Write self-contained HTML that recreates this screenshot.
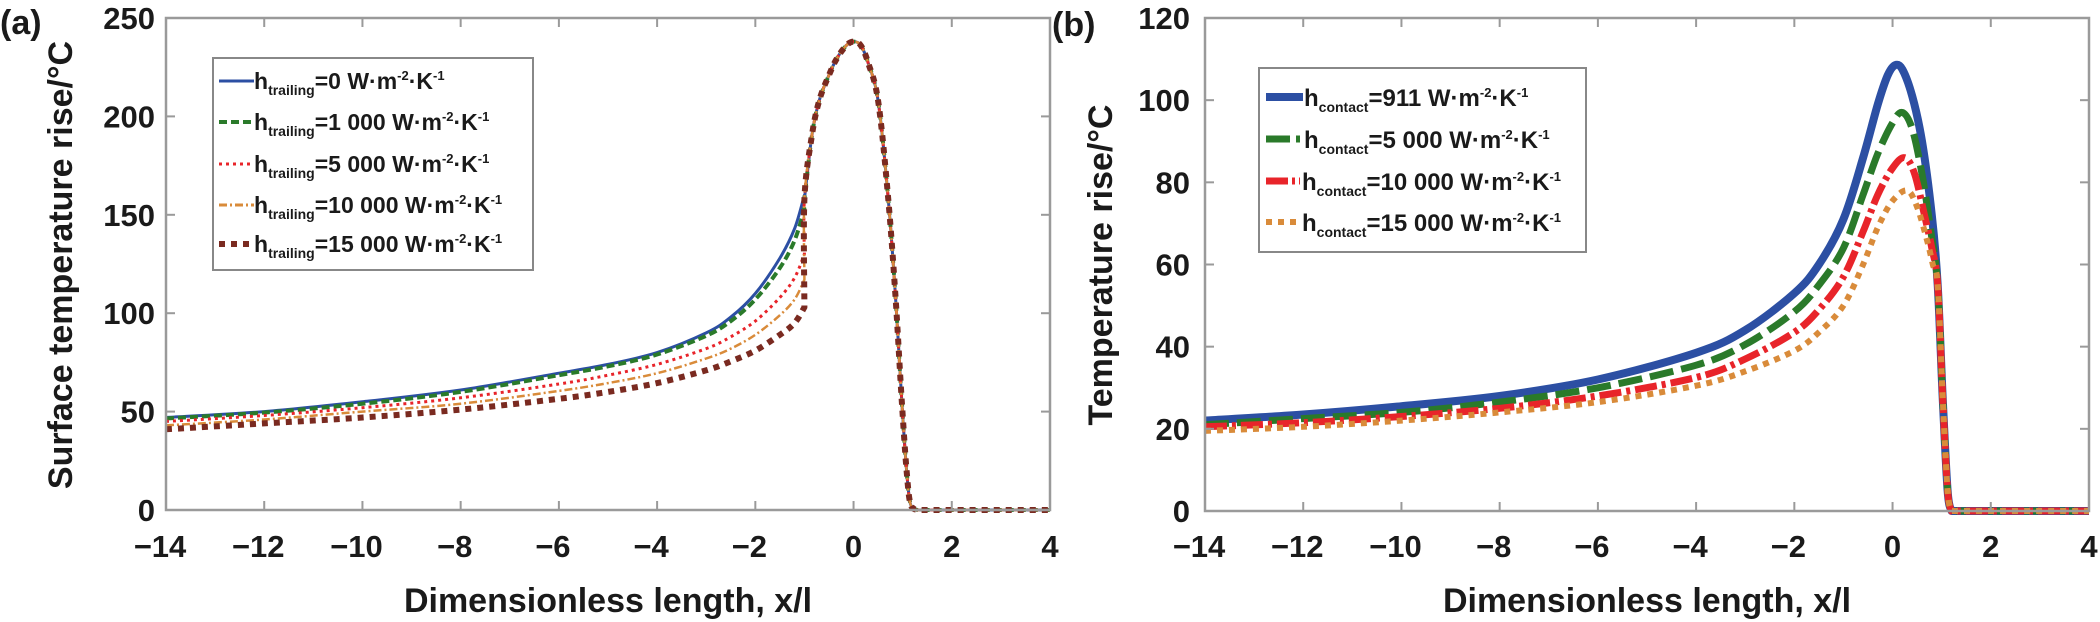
<!DOCTYPE html>
<html><head><meta charset="utf-8">
<style>
html,body{margin:0;padding:0;background:#fff;}
svg{display:block;}
text{font-family:"Liberation Sans",Arial,sans-serif;font-weight:bold;fill:#1a1a1a;}
</style></head>
<body>
<svg id="s" width="2100" height="622" viewBox="0 0 2100 622" xmlns="http://www.w3.org/2000/svg">
<g id="ga"></g>
<g id="gb"></g>
<text x="0" y="34" font-size="34">(a)</text>
<text x="1052" y="36" font-size="34">(b)</text>
<text transform="translate(72,265) rotate(-90)" font-size="34" text-anchor="middle">Surface temperature rise/°C</text>
<text transform="translate(1112,265) rotate(-90)" font-size="34" text-anchor="middle">Temperature rise/°C</text>
<text x="608" y="612" font-size="34" text-anchor="middle">Dimensionless length, x/l</text>
<text x="1647" y="612" font-size="34" text-anchor="middle">Dimensionless length, x/l</text>

<rect x="213" y="58" width="320" height="212" fill="#fff" stroke="#888" stroke-width="2"/>
<g font-size="23">
<line x1="219" y1="81" x2="254" y2="81" stroke="#2c4fa3" stroke-width="3"/>
<text x="254" y="89">h<tspan font-size="14" dy="6">trailing</tspan><tspan dy="-6">=0 W·m</tspan><tspan font-size="13" dy="-9">-2</tspan><tspan dy="9">·K</tspan><tspan font-size="13" dy="-9">-1</tspan></text>
<line x1="219" y1="122" x2="254" y2="122" stroke="#2a7a2a" stroke-width="4" stroke-dasharray="8,4"/>
<text x="254" y="130">h<tspan font-size="14" dy="6">trailing</tspan><tspan dy="-6">=1 000 W·m</tspan><tspan font-size="13" dy="-9">-2</tspan><tspan dy="9">·K</tspan><tspan font-size="13" dy="-9">-1</tspan></text>
<line x1="219" y1="164" x2="254" y2="164" stroke="#e8242a" stroke-width="3" stroke-dasharray="3,4"/>
<text x="254" y="172">h<tspan font-size="14" dy="6">trailing</tspan><tspan dy="-6">=5 000 W·m</tspan><tspan font-size="13" dy="-9">-2</tspan><tspan dy="9">·K</tspan><tspan font-size="13" dy="-9">-1</tspan></text>
<line x1="219" y1="205" x2="254" y2="205" stroke="#d98b3a" stroke-width="3" stroke-dasharray="8,3,2,3"/>
<text x="254" y="213">h<tspan font-size="14" dy="6">trailing</tspan><tspan dy="-6">=10 000 W·m</tspan><tspan font-size="13" dy="-9">-2</tspan><tspan dy="9">·K</tspan><tspan font-size="13" dy="-9">-1</tspan></text>
<line x1="219" y1="244" x2="254" y2="244" stroke="#7a2a20" stroke-width="6" stroke-dasharray="6,6"/>
<text x="254" y="252">h<tspan font-size="14" dy="6">trailing</tspan><tspan dy="-6">=15 000 W·m</tspan><tspan font-size="13" dy="-9">-2</tspan><tspan dy="9">·K</tspan><tspan font-size="13" dy="-9">-1</tspan></text>
</g>

<rect x="1259" y="68" width="327" height="184" fill="#fff" stroke="#888" stroke-width="2"/>
<g font-size="24">
<line x1="1266" y1="97" x2="1303" y2="97" stroke="#2c4fa3" stroke-width="8"/>
<text x="1304" y="106">h<tspan font-size="14" dy="6">contact</tspan><tspan dy="-6">=911 W·m</tspan><tspan font-size="13" dy="-9">-2</tspan><tspan dy="9">·K</tspan><tspan font-size="13" dy="-9">-1</tspan></text>
<line x1="1266" y1="139" x2="1300" y2="139" stroke="#2a7a2a" stroke-width="7" stroke-dasharray="24,6"/>
<text x="1304" y="148">h<tspan font-size="14" dy="6">contact</tspan><tspan dy="-6">=5 000 W·m</tspan><tspan font-size="13" dy="-9">-2</tspan><tspan dy="9">·K</tspan><tspan font-size="13" dy="-9">-1</tspan></text>
<line x1="1266" y1="181" x2="1300" y2="181" stroke="#e8242a" stroke-width="7" stroke-dasharray="22,4,3,4"/>
<text x="1302" y="190">h<tspan font-size="14" dy="6">contact</tspan><tspan dy="-6">=10 000 W·m</tspan><tspan font-size="13" dy="-9">-2</tspan><tspan dy="9">·K</tspan><tspan font-size="13" dy="-9">-1</tspan></text>
<line x1="1266" y1="222" x2="1300" y2="222" stroke="#d98b3a" stroke-width="6" stroke-dasharray="6,6"/>
<text x="1302" y="231">h<tspan font-size="14" dy="6">contact</tspan><tspan dy="-6">=15 000 W·m</tspan><tspan font-size="13" dy="-9">-2</tspan><tspan dy="9">·K</tspan><tspan font-size="13" dy="-9">-1</tspan></text>
</g>
</svg>
<script>
(function(){
var NS="http://www.w3.org/2000/svg";
function el(p,t,a,txt){var e=document.createElementNS(NS,t);for(var k in a)e.setAttribute(k,a[k]);if(txt!==undefined)e.textContent=txt;p.appendChild(e);return e;}
function smooth(P,first){ // catmull-rom
  var d=(first?"M":"L")+P[0][0].toFixed(1)+","+P[0][1].toFixed(1);
  for(var i=0;i<P.length-1;i++){
    var p0=P[i-1]||P[i],p1=P[i],p2=P[i+1],p3=P[i+2]||P[i+1];
    var c1=[p1[0]+(p2[0]-p0[0])/6,p1[1]+(p2[1]-p0[1])/6];
    var c2=[p2[0]-(p3[0]-p1[0])/6,p2[1]-(p3[1]-p1[1])/6];
    d+="C"+c1[0].toFixed(1)+","+c1[1].toFixed(1)+" "+c2[0].toFixed(1)+","+c2[1].toFixed(1)+" "+p2[0].toFixed(1)+","+p2[1].toFixed(1);
  }
  return d;
}
function panel(g,L,R,T,B,ymax,ystep,lblX,series){
  var sx=function(x){return L+(x+14)/18*(R-L);};
  var sy=function(y){return B-y/ymax*(B-T);};
  series.forEach(function(s){
    var d="";s.parts.forEach(function(part,j){
      d+=smooth(part.map(function(p){return [sx(p[0]),sy(p[1])];}),j===0);
    });
    var a={d:d,fill:"none",stroke:s.c,"stroke-width":s.w,"stroke-linejoin":"round"};
    if(s.da)a["stroke-dasharray"]=s.da;
    el(g,"path",a);
  });
  el(g,"rect",{x:L,y:T,width:R-L,height:B-T,fill:"none",stroke:"#9a9a9a","stroke-width":2.5});
  for(var x=-14;x<=4;x+=2){var px=sx(x);
    el(g,"line",{x1:px,y1:B,x2:px,y2:B-9,stroke:"#9a9a9a","stroke-width":2});
    el(g,"line",{x1:px,y1:T,x2:px,y2:T+9,stroke:"#9a9a9a","stroke-width":2});
    el(g,"text",{x:px-(x<0?6:0),y:557,"font-size":31,"text-anchor":"middle"},(x<0?"\u2212":"")+Math.abs(x));
  }
  for(var y=0;y<=ymax;y+=ystep){var py=sy(y);
    el(g,"line",{x1:L,y1:py,x2:L+9,y2:py,stroke:"#9a9a9a","stroke-width":2});
    el(g,"line",{x1:R,y1:py,x2:R-9,y2:py,stroke:"#9a9a9a","stroke-width":2});
    el(g,"text",{x:lblX,y:py+11,"font-size":31,"text-anchor":"end"},""+y);
  }
}
var peak=[[-1,158],[-0.85,190],[-0.7,208],[-0.5,221],[-0.35,229],[-0.15,236],[0,238],[0.15,236],[0.3,227],[0.5,208],[0.7,160],[0.85,110],[0.98,56],[1.08,20],[1.16,3],[1.3,0]];
function A(arr){return [arr,[[arr[arr.length-1][0],arr[arr.length-1][1]]].concat(peak),[[1.3,0],[4,0]]];}
panel(document.getElementById("ga"),166,1050,18,510,250,50,155,[
 {c:"#2c4fa3",w:3,parts:A([[-14,47],[-12,50],[-10,55],[-8,61],[-6,69.5],[-5,74],[-4,80],[-3,90],[-2.5,98],[-2,110],[-1.5,128],[-1.2,143],[-1,160]])},
 {c:"#2a7a2a",w:4,da:"8,4",parts:A([[-14,46.5],[-12,49.5],[-10,54],[-8,60],[-6,68.5],[-5,73],[-4,79],[-3,88.5],[-2.5,96],[-2,107],[-1.5,123],[-1.2,137],[-1,153]])},
 {c:"#e8242a",w:3,da:"3,4",parts:A([[-14,45],[-12,48],[-10,52],[-8,57],[-6,64],[-5,68.5],[-4,74],[-3,82],[-2.5,88],[-2,96],[-1.5,108],[-1.2,118],[-1,130]])},
 {c:"#d98b3a",w:2.5,da:"8,3,2,3",parts:A([[-14,43],[-12,46],[-10,50],[-8,54],[-6,60.5],[-5,64.5],[-4,69.5],[-3,77],[-2.5,82],[-2,89],[-1.5,99],[-1.2,107],[-1,117]])},
 {c:"#7a2a20",w:6,da:"6,6",parts:A([[-14,41],[-12,44],[-10,47],[-8,51],[-6,56.5],[-5,60],[-4,64.5],[-3,71],[-2.5,75.5],[-2,81],[-1.5,89],[-1.2,95],[-1,103]])}
]);
function B(arr){return [arr,[[1.2,0],[4,0]]];}
panel(document.getElementById("gb"),1205,2089,18,511,120,20,1190,[
 {c:"#2c4fa3",w:8,parts:B([[-14,22],[-12,23.5],[-10,25.5],[-8,28],[-6,32],[-4,38.5],[-3,44],[-2,53],[-1.5,60],[-1,71],[-0.6,86],[-0.3,99],[-0.1,106],[0.05,108.5],[0.2,107.5],[0.4,101],[0.6,90],[0.8,72],[0.92,55],[1.02,28],[1.12,5],[1.2,0]])},
 {c:"#2a7a2a",w:7,da:"24,8",parts:B([[-14,21],[-12,22.5],[-10,24],[-8,26.5],[-6,30],[-4,35.5],[-3,40.5],[-2,48.5],[-1.5,55],[-1,64],[-0.6,77],[-0.3,87],[0,94.5],[0.2,97],[0.4,93],[0.6,82],[0.78,68],[0.92,55],[1.02,28],[1.12,5],[1.2,0]])},
 {c:"#e8242a",w:7,da:"22,5,4,5",parts:B([[-14,20.5],[-12,21.5],[-10,23],[-8,25],[-6,28],[-4,32.5],[-3,37],[-2,43.5],[-1.5,49],[-1,57],[-0.6,68],[-0.3,77],[0,83.5],[0.25,86],[0.45,82],[0.65,72],[0.8,64],[0.92,55],[1.02,28],[1.12,5],[1.2,0]])},
 {c:"#d98b3a",w:6,da:"6,6",parts:B([[-14,19.5],[-12,20.5],[-10,22],[-8,24],[-6,26.5],[-4,30.5],[-3,34],[-2,39],[-1.5,43.5],[-1,50],[-0.6,60],[-0.3,69],[0,75.5],[0.3,78],[0.5,74],[0.7,66],[0.82,60],[0.92,55],[1.02,28],[1.12,5],[1.2,0]])}
]);
})();
</script>
</body></html>
